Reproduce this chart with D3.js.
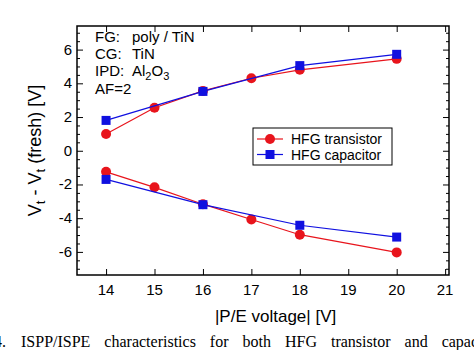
<!DOCTYPE html>
<html>
<head>
<meta charset="utf-8">
<script src="https://cdn.jsdelivr.net/npm/d3@7"></script>
<style>
  body { margin: 0; background: #fff; }
  svg { display: block; font-family: 'Liberation Sans', Arial, sans-serif; }
</style>
</head>
<body>
<svg id="chart" width="474" height="350"></svg>
<script>
const xTicks = [14, 15, 16, 17, 18, 19, 20, 21]
const yTicks = [-6, -4, -2, 0, 2, 4, 6]

// HFG transistor: program (upper) and erase (lower) branches
const transVolt = [14, 15, 16, 17, 18, 20]
const transProg = [0.99, 2.55, 3.55, 4.3, 4.8, 5.45]
const transErase = [-1.25, -2.17, -3.17, -4.08, -4.98, -6.03]

// HFG capacitor
const capVolt = [14, 16, 18, 20]
const capProg = [1.8, 3.52, 5.05, 5.72]
const capErase = [-1.7, -3.2, -4.42, -5.12]

const seriesNames = ['HFG transistor', 'HFG capacitor']

const svg = d3.select('#chart')
const margin = { top: 26, right: 25, bottom: 75, left: 77 }
const innerWidth = 474 - margin.left - margin.right
const innerHeight = 350 - margin.top - margin.bottom

const xScale = d3.scaleLinear().domain([13.4, 21.08]).range([0, innerWidth])
const yScale = d3.scaleLinear().domain([-7.37, 7.4]).range([innerHeight, 0])

const g = svg.append('g').attr('transform', `translate(${margin.left},${margin.top})`)

// inward ticks on all four sides
const yMinor = d3.range(-7, 7.01, 0.5)
const tickLen = v => (Math.abs(v % 2) < 1e-6 ? 6 : 3)

g.append('g').call(d3.axisLeft(yScale).tickValues(yMinor).tickSize(0).tickFormat(''))
  .call(a => a.select('.domain').remove())
  .selectAll('.tick line').attr('x2', d => tickLen(d)).attr('stroke', '#000')

g.append('g').attr('transform', `translate(${innerWidth},0)`)
  .call(d3.axisRight(yScale).tickValues(yMinor).tickSize(0).tickFormat(''))
  .call(a => a.select('.domain').remove())
  .selectAll('.tick line').attr('x2', d => -tickLen(d)).attr('stroke', '#000')

g.append('g').attr('transform', `translate(0,${innerHeight})`)
  .call(d3.axisBottom(xScale).tickValues(xTicks).tickSize(-6).tickFormat(''))
  .call(a => a.select('.domain').remove())

g.append('g')
  .call(d3.axisTop(xScale).tickValues(xTicks).tickSize(-6).tickFormat(''))
  .call(a => a.select('.domain').remove())

g.selectAll('.tick line').attr('stroke', '#000').attr('stroke-width', 1)

// tick labels
g.append('g').selectAll('text').data(xTicks).join('text')
  .attr('x', d => xScale(d))
  .attr('y', innerHeight + 20)
  .attr('text-anchor', 'middle')
  .attr('font-size', 15)
  .text(d => d)

g.append('g').selectAll('text').data(yTicks).join('text')
  .attr('x', -5)
  .attr('y', d => yScale(d) + 5)
  .attr('text-anchor', 'end')
  .attr('font-size', 15)
  .text(d => d)

// frame
g.append('rect')
  .attr('width', innerWidth).attr('height', innerHeight)
  .attr('fill', 'none').attr('stroke', '#000').attr('stroke-width', 1.5)

const line = d3.line().x(d => xScale(d[0])).y(d => yScale(d[1]))

const series = [
  { name: seriesNames[0], color: '#e8141c', shape: 'circle', branches: [transProg, transErase], volts: transVolt },
  { name: seriesNames[1], color: '#1010e0', shape: 'square', branches: [capProg, capErase], volts: capVolt },
]

series.forEach(s => {
  s.branches.forEach(vals => {
    const pts = s.volts.map((v, i) => [v, vals[i]])
    g.append('path')
      .attr('d', line(pts))
      .attr('fill', 'none')
      .attr('stroke', s.color)
      .attr('stroke-width', 1.2)
    const marks = g.append('g').selectAll('.m').data(pts).join(s.shape === 'circle' ? 'circle' : 'rect')
    if (s.shape === 'circle') {
      marks.attr('cx', d => xScale(d[0])).attr('cy', d => yScale(d[1])).attr('r', 5)
    } else {
      marks.attr('x', d => xScale(d[0]) - 4.5).attr('y', d => yScale(d[1]) - 4.5)
        .attr('width', 9).attr('height', 9)
    }
    marks.attr('fill', s.color)
  })
})

// annotation
const notes = g.append('g').attr('font-size', 15)
const noteRows = [
  ['FG:', 'poly / TiN'],
  ['CG:', 'TiN'],
  ['IPD:', null],
  ['AF=2', ''],
]
const noteY = [16, 33, 50, 68]
noteRows.forEach((r, i) => {
  notes.append('text').attr('x', 18).attr('y', noteY[i]).text(r[0])
  if (r[1] === null) {
    const t = notes.append('text').attr('x', 55).attr('y', noteY[i])
    t.append('tspan').text('Al')
    t.append('tspan').attr('font-size', 11).attr('dy', 4).text('2')
    t.append('tspan').attr('dy', -4).text('O')
    t.append('tspan').attr('font-size', 11).attr('dy', 4).text('3')
  } else if (r[1]) {
    notes.append('text').attr('x', 55).attr('y', noteY[i]).text(r[1])
  }
})

// legend
const legend = g.append('g').attr('transform', 'translate(176,102)')
legend.append('rect').attr('width', 139).attr('height', 37)
  .attr('fill', '#fff').attr('stroke', '#000').attr('stroke-width', 1)
series.forEach((s, i) => {
  const row = legend.append('g').attr('transform', `translate(0,${11 + i * 15.5})`)
  row.append('line').attr('x1', 4).attr('x2', 30).attr('stroke', s.color).attr('stroke-width', 1.2)
  if (s.shape === 'circle') row.append('circle').attr('cx', 17).attr('r', 5).attr('fill', s.color)
  else row.append('rect').attr('x', 12.5).attr('y', -4.5).attr('width', 9).attr('height', 9).attr('fill', s.color)
  row.append('text').attr('x', 38).attr('y', 5).attr('font-size', 14).text(s.name)
})

// axis titles
svg.append('text')
  .attr('x', margin.left + xScale(17.5))
  .attr('y', 322)
  .attr('text-anchor', 'middle')
  .attr('font-size', 17)
  .text('|P/E voltage| [V]')

const yl = svg.append('text')
  .attr('transform', `translate(41,${margin.top + innerHeight / 2}) rotate(-90)`)
  .attr('text-anchor', 'middle')
  .attr('font-size', 18)
yl.append('tspan').text('V')
yl.append('tspan').attr('font-size', 13).attr('dy', 4).text('t')
yl.append('tspan').attr('dy', -4).text(' - V')
yl.append('tspan').attr('font-size', 13).attr('dy', 4).text('t')
yl.append('tspan').attr('dy', -4).text(' (fresh) [V]')

// figure caption (cut off by the page edge)
const caption = svg.append('g')
  .attr('font-family', "'Liberation Serif', 'Times New Roman', serif")
  .attr('font-size', 16)
caption.append('text').attr('x', -6).attr('y', 347).text('4.')
caption.append('text')
  .attr('x', 21).attr('y', 347)
  .attr('word-spacing', 10)
  .text('ISPP/ISPE characteristics for both HFG transistor and capacitor.')
</script>
</body>
</html>
